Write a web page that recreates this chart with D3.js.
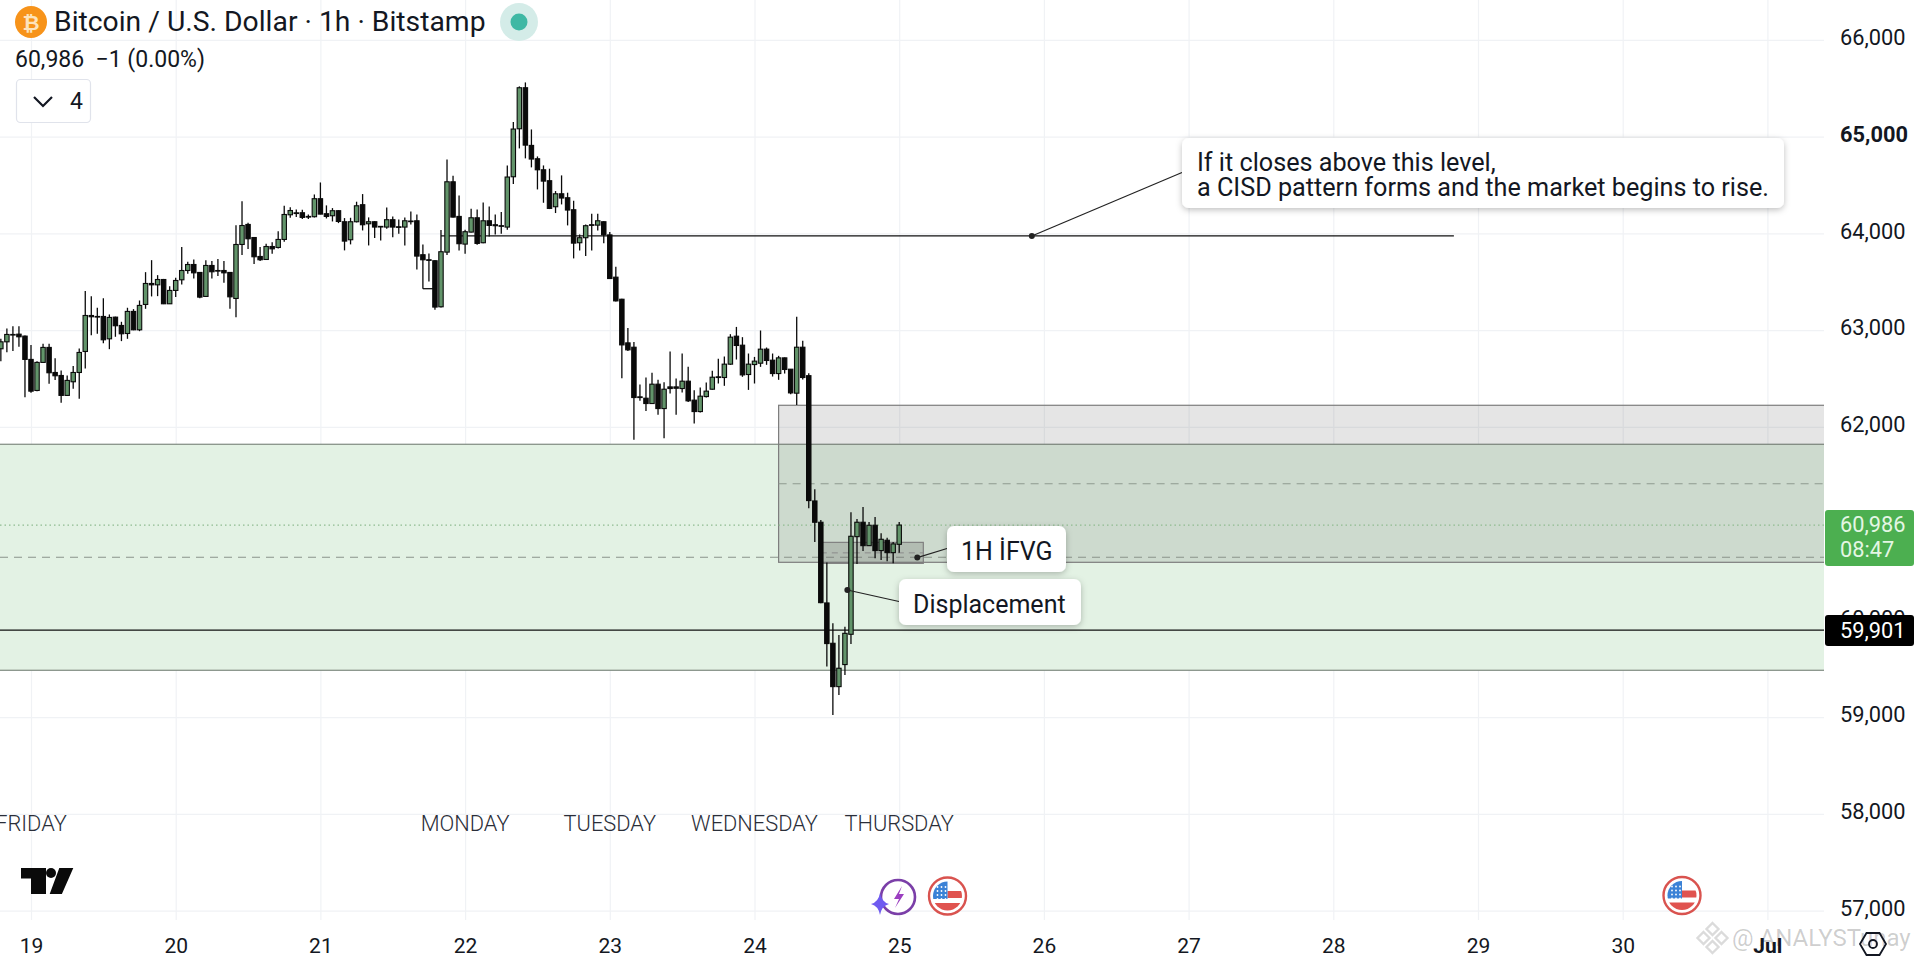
<!DOCTYPE html>
<html>
<head>
<meta charset="utf-8">
<script src="https://cdn.jsdelivr.net/npm/d3@7"></script>
<style>
  html, body { margin: 0; padding: 0; background: #fff; }
  text { font-family: Roboto, sans-serif; white-space: pre; }
</style>
</head>
<body>
<div id="vis"></div>
<script>
// hourly candles, first one is Jun 18 19:00 (UTC)
const firstCandle = Date.UTC(2024, 5, 18, 19);
const opens = [62808,62880,62953,62959,62939,62698,62377,62667,62822,62563,62532,62326,62467,62563,62780,63152,63142,63142,62911,63135,63049,62966,63194,63004,63266,63483,63469,63524,63273,63411,63521,63617,63679,63597,63349,63669,63617,63617,63597,63328,63886,64093,63958,63762,63731,63865,63855,63938,64193,64213,
  64214,64176,64173,64359,64204,64183,64235,64121,63935,64121,64297,64100,64121,64073,64066,64142,64069,64066,64128,64131,63780,63728,63718,63242,63807,64534,64176,63890,64014,64162,63904,64131,64090,64080,64066,64586,65082,65506,64910,64772,64658,64545,64276,64410,64369,64245,63904,63956,64090,64086,64121,
  63985,63548,63320,62869,62824,62311,62297,62242,62442,62190,62414,62414,62397,62473,62277,62159,62314,62390,62518,62511,62649,62938,62845,62542,62645,62659,62804,62690,62552,62714,62597,62349,62824,62530,61235,61015,60181,59764,59316,59544,59857,60866,61015,60773,60984,60722,60829,60701,60787];
const highs = [62911,63018,63042,63042,62945,62846,62680,62859,62859,62711,62584,62532,62629,62811,63404,63352,63232,63331,63163,63140,63087,63232,63218,63307,63600,63724,63569,63530,63455,63542,63859,63707,63731,63600,63724,63714,63735,63714,63600,64086,64334,64110,63960,63859,63893,63910,64024,64286,64272,64248,
  64245,64197,64403,64527,64290,64262,64240,64159,64162,64328,64407,64166,64125,64075,64269,64176,64145,64166,64228,64197,63887,63794,63722,64035,64765,64596,64393,64038,64255,64248,64321,64279,64197,64221,64703,65151,65520,65561,65075,64796,64703,64669,64438,64600,64421,64338,63990,64093,64204,64204,64125,
  64016,63655,63325,63024,62879,62439,62511,62559,62487,62463,62780,62501,62759,62621,62380,62407,62459,62580,62704,62728,62959,63034,62928,62759,62724,62997,62821,62759,62735,62718,62600,63138,62890,62555,61356,61039,60598,59971,59850,59936,61118,61049,61173,61018,61070,60901,60856,60811,61018];
const lows = [62680,62773,62784,62828,62308,62353,62370,62665,62446,62484,62250,62320,62394,62291,62605,62949,62963,62866,62804,62932,62887,62911,63000,62990,63221,63349,63352,63270,63270,63342,63473,63583,63535,63331,63345,63535,63559,63490,63221,63135,63776,63838,63683,63714,63728,63790,63845,63914,64162,64169,
  64149,64149,64165,64198,64155,64124,64107,63825,63887,64114,64031,63876,63952,63928,64049,63962,63997,63876,64093,63628,63429,63504,63211,63235,63776,64165,63825,63790,64010,63883,63900,63969,63990,63997,64038,64510,64879,64776,64683,64455,64317,64252,64211,64300,64083,63742,63825,63766,63825,64031,63900,
  63530,63296,62504,62786,61867,62270,62166,62238,62125,61884,62345,62125,62356,62259,62035,62149,62304,62385,62449,62425,62642,62697,62518,62383,62449,62621,62642,62521,62487,62552,62339,62228,62490,61159,60811,60177,59523,59023,59230,59437,59757,60584,60718,60770,60643,60625,60612,60591,60701];
const closes = [62880,62956,62956,62932,62698,62370,62667,62822,62560,62529,62326,62481,62563,62770,63152,63139,63139,62901,63132,63046,62963,63194,63004,63256,63483,63469,63524,63273,63411,63514,63617,63679,63593,63342,63669,63604,63614,63593,63345,63886,64082,63945,63759,63728,63865,63841,63938,64196,64237,64206,
  64166,64169,64359,64200,64176,64235,64124,63921,64121,64286,64090,64121,64066,64069,64142,64066,64066,64131,64124,63766,63728,63725,63239,63811,64534,64169,63894,64018,64162,63897,64131,64083,64080,64076,64583,65079,65506,64913,64769,64658,64541,64259,64410,64366,64242,63900,63956,64080,64086,64131,63987,
  63534,63303,62848,62797,62304,62304,62242,62442,62190,62390,62397,62400,62473,62270,62159,62318,62370,62514,62511,62649,62928,62842,62538,62649,62680,62804,62687,62552,62714,62594,62352,62824,62511,61239,61015,60184,59761,59316,59506,59867,60870,61015,60773,60984,60722,60839,60701,60791,60986];

// axis ticks
const priceTicks = [66000, 65000, 64000, 63000, 62000, 61000, 60000, 59000, 58000, 57000];
const dayTicks = [19, 20, 21, 22, 23, 24, 25, 26, 27, 28, 29, 30, 31];
const weekdayDays = [19, 22, 23, 24, 25];
const weekdayNames = ["FRIDAY", "MONDAY", "TUESDAY", "WEDNESDAY", "THURSDAY"];

// drawn levels and zones
const lastPrice = 60986;
const closeLevel = 59901;
const cisdLevel = 63974;
const greenZone = [61821, 59485];
const greyZone = [62224, 60601];
const ifvgZone = [60807, 60590];

const W = 1920, H = 962;
const plotRight = 1824, plotBottom = 920;

const day = d => Date.UTC(2024, 5, d);
const hour = (d, h, m = 0) => Date.UTC(2024, 5, d, h, m);

const x = d3.scaleUtc().domain([day(19), day(31)]).range([31, 1767.4]);
const y = d3.scaleLinear().domain([57000, 65000]).range([910.7, 136.7]);

const candles = opens.map((o, i) => ({
  t: firstCandle + i * 3600000,
  o, h: highs[i], l: lows[i], c: closes[i]
}));

const svg = d3.select("#vis").append("svg")
  .attr("width", W).attr("height", H)
  .style("display", "block");

const defs = svg.append("defs");
const shadow = defs.append("filter").attr("id", "shadow")
  .attr("x", "-10%").attr("y", "-20%").attr("width", "120%").attr("height", "150%");
shadow.append("feDropShadow").attr("dx", 0).attr("dy", 2).attr("stdDeviation", 3)
  .attr("flood-color", "#000").attr("flood-opacity", 0.25);
defs.append("clipPath").attr("id", "plot")
  .append("rect").attr("width", plotRight).attr("height", plotBottom);

// Grid
svg.append("g").attr("class", "y-grid")
  .call(d3.axisRight(y).tickValues(priceTicks).tickSize(plotRight).tickFormat(""))
  .call(g => g.select(".domain").remove())
  .selectAll("line").attr("stroke", "#f0f2f5").attr("stroke-width", 1.2);

svg.append("g").attr("class", "x-grid")
  .call(d3.axisBottom(x).tickValues(dayTicks.map(day)).tickSize(plotBottom).tickFormat(""))
  .call(g => g.select(".domain").remove())
  .selectAll("line").attr("stroke", "#f0f2f5").attr("stroke-width", 1.2);

// Zones
const levels = svg.append("g").attr("clip-path", "url(#plot)");

const zone = (x0, x1, top, bottom, fill, stroke) => levels.append("rect")
  .attr("x", x0).attr("width", x1 - x0)
  .attr("y", y(top)).attr("height", y(bottom) - y(top))
  .attr("fill", fill).attr("stroke", stroke).attr("stroke-width", 1.2);

const hLine = (yv, x0, x1, stroke, sw, dash) => levels.append("line")
  .attr("x1", x0).attr("x2", x1).attr("y1", y(yv)).attr("y2", y(yv))
  .attr("stroke", stroke).attr("stroke-width", sw)
  .attr("stroke-dasharray", dash || null);

zone(-5, plotRight + 5, greenZone[0], greenZone[1], "#e3f2e4", "#7f8a80");
zone(x(hour(24, 4)), plotRight + 5, greyZone[0], greyZone[1], "rgba(80,80,80,0.15)", "#7d7d7d");

hLine(d3.mean(greenZone), 0, plotRight, "#8a948b", 1.1, "8 6");
hLine(d3.mean(greyZone), x(hour(24, 4)), plotRight, "#8f9a90", 1.1, "8 6");
hLine(lastPrice, 0, plotRight, "#8fbb90", 1.2, "1.5 3");

zone(x(hour(24, 11)), x(hour(25, 4)), ifvgZone[0], ifvgZone[1], "rgba(90,90,90,0.24)", "#808080");
hLine(d3.mean(ifvgZone), x(hour(24, 11)), x(hour(25, 4)), "#8a8a8a", 1, "6 5");

hLine(closeLevel, 0, plotRight, "#111", 1.3);
hLine(cisdLevel, x(hour(21, 20)), x(hour(28, 20)), "#111", 1.3);

// Small elbow drawn under the sell-off on Jun 21
const elbow = candles[70];
levels.append("path")
  .attr("fill", "none").attr("stroke", "#111").attr("stroke-width", 1.3)
  .attr("d", d3.line()([[x(elbow.t), y(elbow.l)], [x(candles[72].t), y(elbow.l)]]));

// Candles
const candle = svg.append("g").attr("class", "candles")
  .selectAll("g").data(candles).join("g");

candle.append("line")
  .attr("x1", d => x(d.t)).attr("x2", d => x(d.t))
  .attr("y1", d => y(d.h)).attr("y2", d => y(d.l))
  .attr("stroke", "#0a0a0a").attr("stroke-width", 1.3);

candle.append("rect")
  .attr("x", d => x(d.t) - 2.2).attr("width", 4.4)
  .attr("y", d => y(Math.max(d.o, d.c)))
  .attr("height", d => Math.max(0.6, Math.abs(y(d.o) - y(d.c))))
  .attr("fill", d => d.c >= d.o ? "#62946a" : "#0a0a0a")
  .attr("stroke", "#0a0a0a").attr("stroke-width", 1.1);

// Annotations
const callout = (x0, y0, w, h, lines, size, tx, lineGap) => {
  const g = svg.append("g");
  g.append("rect").attr("x", x0).attr("y", y0).attr("width", w).attr("height", h)
    .attr("rx", 7).attr("fill", "#fff").attr("filter", "url(#shadow)");
  g.selectAll("text").data(lines).join("text")
    .attr("x", tx).attr("y", (d, i) => y0 + h / 2 + 1.5 + (i - (lines.length - 1) / 2) * lineGap)
    .attr("dy", "0.36em")
    .attr("font-size", size).attr("fill", "#131722")
    .text(d => d);
};

const leader = (px, py, x2, y2) => {
  svg.append("line").attr("x1", px).attr("y1", py).attr("x2", x2).attr("y2", y2)
    .attr("stroke", "#222").attr("stroke-width", 1.2);
  svg.append("circle").attr("cx", px).attr("cy", py).attr("r", 3).attr("fill", "#222");
};

leader(x(hour(25, 22)), y(cisdLevel), 1182, 172.5);
callout(1182, 138, 602, 70, ["If it closes above this level,", "a CISD pattern forms and the market begins to rise."], 25.2, 1197, 25);

leader(x(hour(25, 3)), y(60650), 947, 548.5);
callout(947, 526, 119, 46, ["1H İFVG"], 25, 961, 0);

leader(x(hour(24, 15, 24)), y(60315), 899, 601.5);
callout(899, 579, 182, 46, ["Displacement"], 25, 913, 0);

// Price axis
const yAxis = svg.append("g").attr("class", "y-axis")
  .attr("transform", `translate(${plotRight},0)`)
  .call(d3.axisRight(y).tickValues(priceTicks).tickSize(0).tickPadding(16)
    .tickFormat(d3.format(",")));
yAxis.select(".domain").remove();
yAxis.selectAll("text")
  .attr("font-size", 21.8).attr("fill", "#131722")
  .attr("font-weight", d => d === 65000 ? 700 : 400)
  .style("font-family", "Roboto, sans-serif")
  .attr("dy", "0.22em");

// Price tags sit over the axis
const tags = svg.append("g");
tags.append("rect").attr("x", plotRight + 1).attr("y", 510).attr("width", 89).attr("height", 56)
  .attr("rx", 3).attr("fill", "#4caf50");
tags.append("text").attr("x", 1840).attr("y", y(lastPrice) - 1).attr("dy", "0.36em")
  .attr("font-size", 21.8).attr("fill", "#e4f6e4").text(d3.format(",")(lastPrice));
tags.append("text").attr("x", 1840).attr("y", y(lastPrice) + 24).attr("dy", "0.36em")
  .attr("font-size", 21.8).attr("fill", "#e4f6e4").text("08:47");
tags.append("rect").attr("x", plotRight + 1).attr("y", 615).attr("width", 89).attr("height", 31)
  .attr("rx", 3).attr("fill", "#000");
tags.append("text").attr("x", 1840).attr("y", y(closeLevel)).attr("dy", "0.36em")
  .attr("font-size", 21.8).attr("fill", "#fff").text(d3.format(",")(closeLevel));

// Watermark, sits under the time axis labels
svg.append("text").attr("x", 1732).attr("y", 937).attr("dy", "0.36em")
  .attr("font-size", 24).attr("fill", "#000").attr("fill-opacity", 0.2)
  .text("@ ANALYSTunay");
const wmark = svg.append("g").attr("transform", "translate(1712.5,938)")
  .attr("fill", "none").attr("stroke", "#000").attr("stroke-opacity", 0.14).attr("stroke-width", 2.4);
wmark.append("path").attr("d", "M0,-15 L6,-9 L0,-3 L-6,-9 Z");
wmark.append("path").attr("d", "M0,15 L6,9 L0,3 L-6,9 Z");
wmark.append("path").attr("d", "M-9,-6 L-3,0 L-9,6 L-15,0 Z");
wmark.append("path").attr("d", "M9,-6 L15,0 L9,6 L3,0 Z");

// Time axis
const isJul = d => new Date(d).getUTCMonth() === 6;
const xAxis = svg.append("g").attr("class", "x-axis")
  .attr("transform", "translate(0,945)")
  .call(d3.axisBottom(x).tickValues(dayTicks.map(day)).tickSize(0).tickPadding(0)
    .tickFormat(d => isJul(d) ? "Jul" : new Date(d).getUTCDate()));
xAxis.select(".domain").remove();
xAxis.selectAll("text")
  .attr("y", 0).attr("dy", "0.36em")
  .attr("font-size", 21).attr("fill", "#131722")
  .style("font-family", "Roboto, sans-serif")
  .attr("font-weight", d => isJul(d) ? 700 : 400);

svg.append("g").selectAll("text").data(weekdayNames).join("text")
  .attr("x", (d, i) => x(day(weekdayDays[i])))
  .attr("y", 823.5).attr("dy", "0.36em")
  .attr("text-anchor", "middle").attr("font-size", 21.8)
  .attr("font-weight", 300).attr("fill", "#2a2e39")
  .text(d => d);

// Header
svg.append("circle").attr("cx", 31).attr("cy", 22).attr("r", 16).attr("fill", "#f7931a");
svg.append("text").attr("x", 31).attr("y", 22).attr("dy", "0.36em")
  .attr("text-anchor", "middle").attr("font-size", 21).attr("font-weight", 700)
  .attr("fill", "#fde3bd").text("₿");
svg.append("text").attr("x", 54).attr("y", 21).attr("dy", "0.36em")
  .attr("font-size", 28.3).attr("fill", "#131722").text("Bitcoin / U.S. Dollar · 1h · Bitstamp");
svg.append("circle").attr("cx", 519).attr("cy", 22).attr("r", 19).attr("fill", "#d4ece8");
svg.append("circle").attr("cx", 519).attr("cy", 22).attr("r", 8.5).attr("fill", "#3fb8a4");
svg.append("text").attr("x", 15).attr("y", 59).attr("dy", "0.36em")
  .attr("font-size", 23).attr("fill", "#131722").text("60,986  −1 (0.00%)");

svg.append("rect").attr("x", 16.5).attr("y", 79.5).attr("width", 74).attr("height", 43)
  .attr("rx", 4).attr("fill", "#fff").attr("stroke", "#e0e3eb").attr("stroke-width", 1.2);
svg.append("path").attr("d", "M34,97 L43,106 L52,97").attr("fill", "none")
  .attr("stroke", "#131722").attr("stroke-width", 2.2);
svg.append("text").attr("x", 70).attr("y", 101).attr("dy", "0.36em")
  .attr("font-size", 23).attr("fill", "#131722").text("4");

// TradingView mark
svg.append("path").attr("fill", "#0a0a0a")
  .attr("d", "M21,868 H46 V894 H31 V878.5 H21 Z M59.3,868 H73.3 L61.9,894 H49.7 Z");
svg.append("circle").attr("cx", 51).attr("cy", 873).attr("r", 5).attr("fill", "#0a0a0a");

// Event icons
const usFlag = (cx, cy, id) => {
  const g = svg.append("g").attr("transform", `translate(${cx},${cy})`);
  g.append("circle").attr("r", 18.5).attr("fill", "#fff").attr("stroke", "#d9534f").attr("stroke-width", 2.4);
  g.append("clipPath").attr("id", id).append("circle").attr("r", 14.5);
  const f = g.append("g").attr("clip-path", `url(#${id})`);
  f.append("rect").attr("x", 0).attr("y", -5).attr("width", 15).attr("height", 7).attr("fill", "#e0534f");
  f.append("rect").attr("x", -15).attr("y", 7).attr("width", 30).attr("height", 8).attr("fill", "#e0534f");
  f.append("rect").attr("x", -15).attr("y", -15).attr("width", 15).attr("height", 18).attr("fill", "#3b82d6");
  f.selectAll("circle").data(d3.range(12)).join("circle")
    .attr("cx", d => -10 + (d % 3) * 4).attr("cy", d => -9 + Math.floor(d / 3) * 4)
    .attr("r", 0.9).attr("fill", "#fff");
};
usFlag(947.5, 896, "flagA");
usFlag(1682, 895.5, "flagB");

const bolt = svg.append("g").attr("transform", "translate(898,897)");
bolt.append("circle").attr("r", 17).attr("fill", "#fff").attr("stroke", "#7b3fa8").attr("stroke-width", 2.6);
bolt.append("path").attr("d", "M4,-11 L-4,2 L1,2 L-3,11 L6,-3 L1,-3 Z").attr("fill", "#9b3fc0");
svg.append("path").attr("transform", "translate(880,904)")
  .attr("d", "M0,-11 Q1.5,-2 9,0 Q1.5,2 0,11 Q-1.5,2 -9,0 Q-1.5,-2 0,-11 Z").attr("fill", "#6f5bf0");

// Settings hexagon
svg.append("path").attr("transform", "translate(1873,944)")
  .attr("d", "M-13,0 L-6.5,-11 H6.5 L13,0 L6.5,11 H-6.5 Z").attr("fill", "none")
  .attr("stroke", "#131722").attr("stroke-width", 1.8);
svg.append("circle").attr("cx", 1873).attr("cy", 944).attr("r", 4).attr("fill", "none")
  .attr("stroke", "#131722").attr("stroke-width", 1.8);
</script>
</body>
</html>
